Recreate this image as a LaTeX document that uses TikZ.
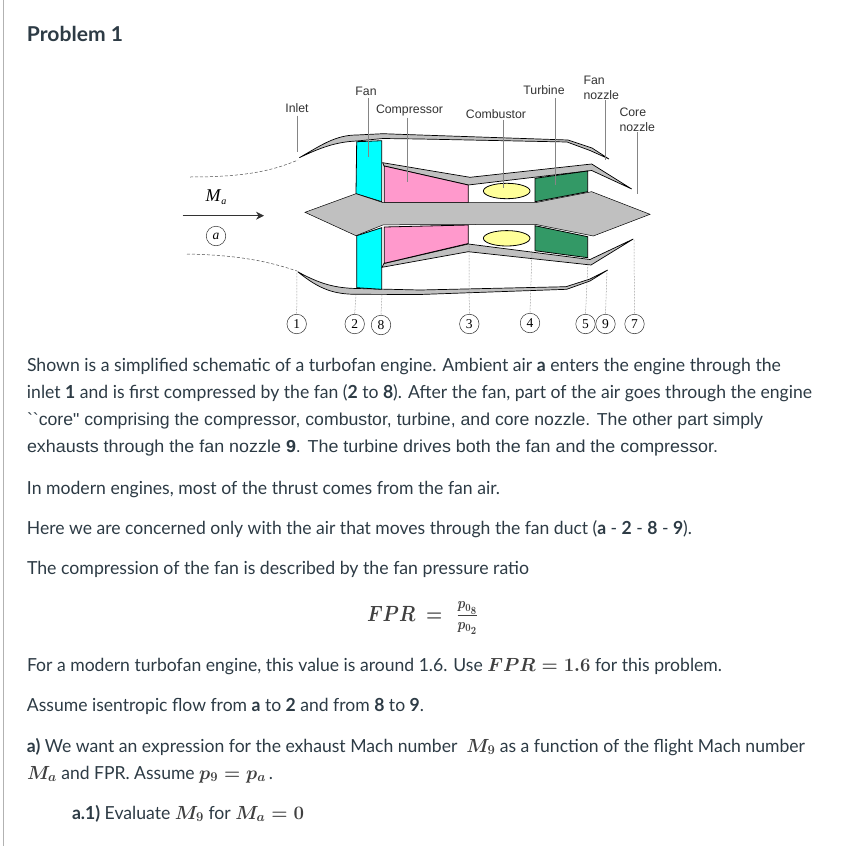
\documentclass[tikz,border=0pt]{standalone}
\usepackage{fix-cm}
\usepackage{amsmath}
\usepackage{graphicx}
\usepackage[no-math]{fontspec}
\usetikzlibrary{arrows.meta}
\setmainfont{Lato}
\newfontfamily\labfont{Liberation Sans}
\newfontfamily\numfont{Liberation Serif}
\definecolor{txt}{HTML}{2D3B45}
\definecolor{fancol}{HTML}{00FFFF}
\definecolor{pinkcol}{HTML}{FF99CC}
\definecolor{greencol}{HTML}{339966}
\definecolor{yellowcol}{HTML}{FFFF99}
\definecolor{bodygray}{HTML}{C0C0C0}
\definecolor{leadcol}{HTML}{858585}
\newcommand\fitline[2]{\resizebox{#1pt}{\height}{#2}}
\newcommand\mth[1]{{\fontsize{19}{24}\selectfont\boldmath\color{black!75}$#1$}}
\tikzset{
  para/.style={anchor=base west,inner sep=0pt,outer sep=0pt,text=txt,font=\fontsize{18}{21}\selectfont},
  arialpara/.style={para,font=\labfont\fontsize{17.3}{21}\selectfont},
  lab/.style={inner sep=0pt,outer sep=0pt,text=black!80,align=center,font=\labfont\fontsize{12.3}{15}\selectfont},
  stat/.style={draw=black!80,circle,minimum size=19.5pt,inner sep=0pt,line width=.5pt,font=\numfont\fontsize{13.5}{13.5}\selectfont},
  leader/.style={draw=leadcol,line width=.6pt},
  dotline/.style={draw=black!60,line width=.5pt,densely dotted},
  flow/.style={draw=black!70,line width=.5pt,densely dashed},
  part/.style={draw=black,line width=.8pt,line join=miter},
  cowl/.style={draw=black,line width=.7pt,fill=bodygray,line join=miter},
}
\begin{document}
\begin{tikzpicture}[x=1pt,y=-1pt]
\useasboundingbox (0,0) rectangle (841,846);
\fill[white] (0,0) rectangle (841,846);
\draw[black!30,line width=.8pt] (3,0) -- (3,846);

\node[para,font=\bfseries\fontsize{20.5}{24}\selectfont] (title) at (27,41) {\fitline{96}{Problem 1}};

% flow boundaries
\draw[flow] (190,177) .. controls (240,177) and (270,172) .. (298,160);
\draw[flow] (187,254) .. controls (240,255) and (270,262) .. (297,271);

% outer cowl
\draw[cowl] (299.3,157.7) .. controls (320,146) and (335,135) .. (356.7,135)
  -- (383,133.7) -- (420,135) -- (568,140) -- (592,148) -- (609,159)
  -- (590,150.5) -- (567,142) -- (420,139) -- (383,138.5) -- (356.7,141)
  .. controls (335,142) and (320,148) .. cycle;
\draw[cowl] (297.7,271.7) .. controls (320,290) and (335,294.3) .. (356.7,294.3)
  -- (420,294.5) -- (566.7,289.3) -- (590,281) -- (607.7,270)
  -- (590,279) -- (566,286.7) -- (420,290) -- (356.7,288.5)
  .. controls (335,288) and (320,284) .. cycle;

% fan
\draw[part,fill=fancol] (356.7,141.7) -- (381.7,140.7) -- (381.7,201.7) -- (356,193.7) -- cycle;
\draw[part,fill=fancol] (356.7,235.7) -- (381.7,227.7) -- (381.7,289.3) -- (356.7,287.7) -- cycle;

% core cowls
\draw[cowl] (382.7,162.7) -- (470,177.3) -- (591.7,164) -- (631.7,189) -- (591.7,170.5) -- (468.3,185) -- (384,166) -- cycle;
\draw[cowl] (382,267.3) -- (468.3,251.7) -- (591,265) -- (633.3,239) -- (590,259.5) -- (468.3,244) -- (384,263.5) -- cycle;

% compressor
\draw[part,fill=pinkcol] (384.3,166) -- (468.3,185) -- (468.3,202.7) -- (384.3,202.7) -- cycle;
\draw[part,fill=pinkcol] (384.3,227) -- (468.3,225) -- (468.3,243.5) -- (384.3,263.3) -- cycle;

% turbine
\draw[part,fill=greencol] (535,178.3) -- (587.7,171) -- (587.7,191.7) -- (535,201.7) -- cycle;
\draw[part,fill=greencol] (535,225.7) -- (587.7,236.7) -- (587.7,257.7) -- (535,250.7) -- cycle;

% central body
\draw[part,fill=bodygray,line width=.5pt] (305,212.3) -- (356,193.7) -- (383.3,202.7) -- (535,202.7) -- (591.7,191.7)
  -- (650,214.3) -- (593.3,236) -- (535,224.3) -- (383.3,224.8) -- (356,235.7) -- cycle;

% combustor
\draw[part,fill=yellowcol] (506.7,191) ellipse [x radius=23.3,y radius=7.7];
\draw[part,fill=yellowcol] (506.7,238.3) ellipse [x radius=23.3,y radius=7.7];

% free ends
\coordinate (eInlet) at (297,152);
\coordinate (eFan) at (368,157);
\coordinate (eComp) at (407,182);
\coordinate (eComb) at (503,188);
\coordinate (eTurb) at (555,185);
\coordinate (eFanN) at (605,160);
\coordinate (eCoreN) at (637,194);
\coordinate (t1) at (297,272);
\coordinate (t2) at (356,295);
\coordinate (t8) at (382,294);
\coordinate (t3) at (469,245);
\coordinate (t4) at (532,250);
\coordinate (t5) at (588,262);
\coordinate (t9) at (607,270);
\coordinate (t7) at (634,239);
\coordinate (as) at (182.5,215.7);
\coordinate (ae) at (264,215.7);

% labels
\node[lab] (lInlet) at (297,108) {Inlet};
\node[lab] (lFan) at (366,91) {Fan};
\node[lab] (lComp) at (409.5,110) {Compressor};
\node[lab] (lComb) at (496,114) {Combustor};
\node[lab] (lTurb) at (544,90.5) {Turbine};
\node[lab] (lFanN) at (601.5,87.5) {\makebox[36pt][l]{Fan}\\[0pt]\makebox[36pt][l]{nozzle}};
\node[lab] (lCoreN) at (638,119.5) {\makebox[37pt][l]{Core}\\[0pt]\makebox[37pt][l]{nozzle}};

\draw[leader] (lInlet.south -| eInlet) ++(0,3) -- (eInlet);
\draw[leader] (lFan.south -| eFan) ++(0,3) -- (eFan);
\draw[leader] (lComp.south -| eComp) ++(0,2) -- (eComp);
\draw[leader] (lComb.south -| eComb) ++(0,1) -- (eComb);
\draw[leader] (lTurb.south -| eTurb) ++(0,3) -- (eTurb);
\draw[leader] (lFanN.south -| eFanN) ++(0,1) -- (eFanN);
\draw[leader] (lCoreN.south -| eCoreN) ++(0,1) -- (eCoreN);

% stations
\node[stat] (c1) at (296.7,324) {1};
\node[stat] (c2) at (354.7,324) {2};
\node[stat] (c8) at (381,325) {8};
\node[stat] (c3) at (469.3,324) {3};
\node[stat] (c4) at (530,323) {4};
\node[stat] (c5) at (585.5,324) {5};
\node[stat] (c9) at (605.5,324) {9};
\node[stat] (c7) at (634.5,324) {7};
\node[stat] (ca) at (216,236) {\itshape a};
\foreach \n in {1,2,8,3,4,5,9,7} \draw[dotline] (c\n.north) -- (t\n);

% free stream
\draw[black!80,line width=.8pt,-{Stealth[length=8pt,width=8pt]}] (as) -- (ae);
\node[inner sep=0pt,font=\numfont\fontsize{18}{20}\selectfont] (mach) at (216,197) {\textit{M}\raisebox{-3pt}{\fontsize{10}{10}\selectfont\textit{a}}};

% text
\node[para] (p1) at (27,371) {\fitline{754}{Shown is a simplified schematic of a turbofan engine. Ambient air \textbf{a} enters the engine through the}};
\node[para] (p2) at (27,398) {\fitline{785}{inlet \textbf{1} and is first compressed by the fan (\textbf{2} to \textbf{8}). After the fan, part of the air goes through the engine}};
\node[arialpara] (p3) at (27,425) {\fitline{736}{``core" comprising the compressor, combustor, turbine, and core nozzle. The other part simply}};
\node[arialpara] (p4) at (27,452) {\fitline{691}{exhausts through the fan nozzle \textbf{9}. The turbine drives both the fan and the compressor.}};
\node[para] (p5) at (27,494) {\fitline{473}{In modern engines, most of the thrust comes from the fan air.}};
\node[para] (p6) at (27,534) {\fitline{665}{Here we are concerned only with the air that moves through the fan duct (\textbf{a} - \textbf{2} - \textbf{8} - \textbf{9}).}};
\node[para] (p7) at (27,574) {\fitline{502}{The compression of the fan is described by the fan pressure ratio}};
\node[para,anchor=base,text=black!75,font=\fontsize{22}{26}\selectfont\boldmath] (eq) at (422.5,621) {\fitline{111}{$FPR\mskip4mu=\mskip7mu\frac{p_{0_8}}{p_{0_2}}$}};
\node[para] (p8) at (27,671) {\fitline{695}{For a modern turbofan engine, this value is around 1.6. Use \mth{FPR=1.6} for this problem.}};
\node[para] (p9) at (27,711) {\fitline{397}{Assume isentropic flow from \textbf{a} to \textbf{2} and from \textbf{8} to \textbf{9}.}};
\node[para] (p10) at (27,752) {\fitline{778}{\textbf{a)} We want an expression for the exhaust Mach number \ \mth{M_9} as a function of the flight Mach number}};
\node[para] (p11) at (27,779) {\fitline{246}{\mth{M_a} and FPR. Assume \mth{p_9=p_a}\,.}};
\node[para] (p12) at (72,819) {\fitline{232}{\textbf{a.1)} Evaluate \mth{M_9} for \mth{M_a=0}}};
\end{tikzpicture}
\end{document}
